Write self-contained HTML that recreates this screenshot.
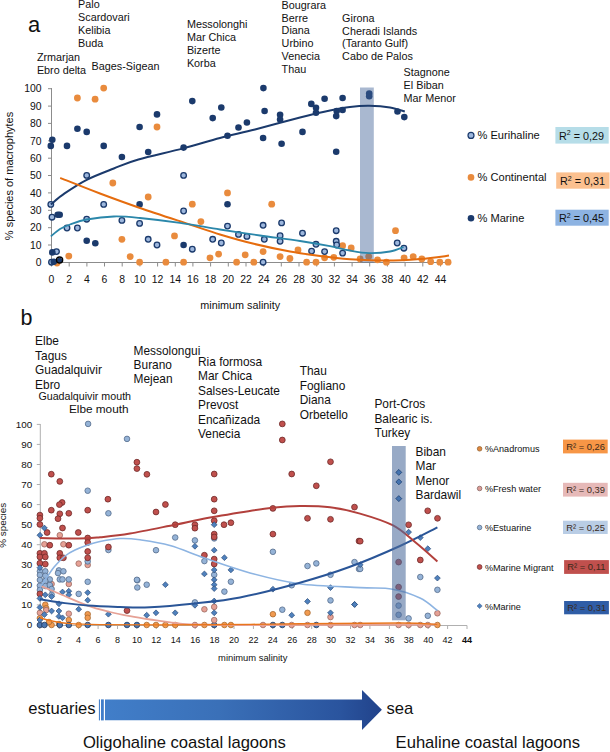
<!DOCTYPE html>
<html><head><meta charset="utf-8"><style>
html,body{margin:0;padding:0;background:#fff;}
body{width:610px;height:752px;overflow:hidden;position:relative;}
svg{position:absolute;left:0;top:0;font-family:"Liberation Sans", sans-serif;}
</style></head><body>
<svg width="610" height="752" viewBox="0 0 610 752">
<g stroke="#8c8c8c" stroke-width="1" fill="none">
<path d="M51.5 88V262.5H449.5"/>
<path d="M48 262.4H51.5"/>
<path d="M48 245.0H51.5"/>
<path d="M48 227.7H51.5"/>
<path d="M48 210.3H51.5"/>
<path d="M48 192.9H51.5"/>
<path d="M48 175.5H51.5"/>
<path d="M48 158.2H51.5"/>
<path d="M48 140.8H51.5"/>
<path d="M48 123.4H51.5"/>
<path d="M48 106.1H51.5"/>
<path d="M48 88.7H51.5"/>
<path d="M51.5 262.5V266.5"/>
<path d="M69.2 262.5V266.5"/>
<path d="M86.9 262.5V266.5"/>
<path d="M104.5 262.5V266.5"/>
<path d="M122.2 262.5V266.5"/>
<path d="M139.9 262.5V266.5"/>
<path d="M157.6 262.5V266.5"/>
<path d="M175.3 262.5V266.5"/>
<path d="M192.9 262.5V266.5"/>
<path d="M210.6 262.5V266.5"/>
<path d="M228.3 262.5V266.5"/>
<path d="M246.0 262.5V266.5"/>
<path d="M263.7 262.5V266.5"/>
<path d="M281.3 262.5V266.5"/>
<path d="M299.0 262.5V266.5"/>
<path d="M316.7 262.5V266.5"/>
<path d="M334.4 262.5V266.5"/>
<path d="M352.1 262.5V266.5"/>
<path d="M369.7 262.5V266.5"/>
<path d="M387.4 262.5V266.5"/>
<path d="M405.1 262.5V266.5"/>
<path d="M422.8 262.5V266.5"/>
<path d="M440.5 262.5V266.5"/>
</g>
<text x="41.5" y="266.1" font-size="10.4" text-anchor="end" fill="#111" >0</text>
<text x="41.5" y="248.7" font-size="10.4" text-anchor="end" fill="#111" >10</text>
<text x="41.5" y="231.4" font-size="10.4" text-anchor="end" fill="#111" >20</text>
<text x="41.5" y="214.0" font-size="10.4" text-anchor="end" fill="#111" >30</text>
<text x="41.5" y="196.6" font-size="10.4" text-anchor="end" fill="#111" >40</text>
<text x="41.5" y="179.2" font-size="10.4" text-anchor="end" fill="#111" >50</text>
<text x="41.5" y="161.9" font-size="10.4" text-anchor="end" fill="#111" >60</text>
<text x="41.5" y="144.5" font-size="10.4" text-anchor="end" fill="#111" >70</text>
<text x="41.5" y="127.1" font-size="10.4" text-anchor="end" fill="#111" >80</text>
<text x="41.5" y="109.8" font-size="10.4" text-anchor="end" fill="#111" >90</text>
<text x="41.5" y="92.4" font-size="10.4" text-anchor="end" fill="#111" >100</text>
<text x="51.5" y="283.2" font-size="10.4" text-anchor="middle" fill="#111" >0</text>
<text x="69.2" y="283.2" font-size="10.4" text-anchor="middle" fill="#111" >2</text>
<text x="86.9" y="283.2" font-size="10.4" text-anchor="middle" fill="#111" >4</text>
<text x="104.5" y="283.2" font-size="10.4" text-anchor="middle" fill="#111" >6</text>
<text x="122.2" y="283.2" font-size="10.4" text-anchor="middle" fill="#111" >8</text>
<text x="139.9" y="283.2" font-size="10.4" text-anchor="middle" fill="#111" >10</text>
<text x="157.6" y="283.2" font-size="10.4" text-anchor="middle" fill="#111" >12</text>
<text x="175.3" y="283.2" font-size="10.4" text-anchor="middle" fill="#111" >14</text>
<text x="192.9" y="283.2" font-size="10.4" text-anchor="middle" fill="#111" >16</text>
<text x="210.6" y="283.2" font-size="10.4" text-anchor="middle" fill="#111" >18</text>
<text x="228.3" y="283.2" font-size="10.4" text-anchor="middle" fill="#111" >20</text>
<text x="246.0" y="283.2" font-size="10.4" text-anchor="middle" fill="#111" >22</text>
<text x="263.7" y="283.2" font-size="10.4" text-anchor="middle" fill="#111" >24</text>
<text x="281.3" y="283.2" font-size="10.4" text-anchor="middle" fill="#111" >26</text>
<text x="299.0" y="283.2" font-size="10.4" text-anchor="middle" fill="#111" >28</text>
<text x="316.7" y="283.2" font-size="10.4" text-anchor="middle" fill="#111" >30</text>
<text x="334.4" y="283.2" font-size="10.4" text-anchor="middle" fill="#111" >32</text>
<text x="352.1" y="283.2" font-size="10.4" text-anchor="middle" fill="#111" >34</text>
<text x="369.7" y="283.2" font-size="10.4" text-anchor="middle" fill="#111" >36</text>
<text x="387.4" y="283.2" font-size="10.4" text-anchor="middle" fill="#111" >38</text>
<text x="405.1" y="283.2" font-size="10.4" text-anchor="middle" fill="#111" >40</text>
<text x="422.8" y="283.2" font-size="10.4" text-anchor="middle" fill="#111" >42</text>
<text x="440.5" y="283.2" font-size="10.4" text-anchor="middle" fill="#111" >44</text>
<circle cx="77.4" cy="98.0" r="3.4" fill="#e98b3d"/>
<circle cx="95.1" cy="99.2" r="3.4" fill="#e98b3d"/>
<circle cx="103.7" cy="88.1" r="3.4" fill="#e98b3d"/>
<circle cx="157.0" cy="127.0" r="3.4" fill="#e98b3d"/>
<circle cx="112.8" cy="183.0" r="3.4" fill="#e98b3d"/>
<circle cx="148.2" cy="197.0" r="3.4" fill="#e98b3d"/>
<circle cx="121.9" cy="239.3" r="3.4" fill="#e98b3d"/>
<circle cx="174.5" cy="235.9" r="3.4" fill="#e98b3d"/>
<circle cx="68.8" cy="256.1" r="3.4" fill="#e98b3d"/>
<circle cx="130.2" cy="256.6" r="3.4" fill="#e98b3d"/>
<circle cx="139.6" cy="262.2" r="3.4" fill="#e98b3d"/>
<circle cx="165.9" cy="262.2" r="3.4" fill="#e98b3d"/>
<circle cx="183.6" cy="262.2" r="3.4" fill="#e98b3d"/>
<circle cx="192.3" cy="204.2" r="3.4" fill="#e98b3d"/>
<circle cx="227.5" cy="192.9" r="3.4" fill="#e98b3d"/>
<circle cx="271.7" cy="204.2" r="3.4" fill="#e98b3d"/>
<circle cx="200.9" cy="221.6" r="3.4" fill="#e98b3d"/>
<circle cx="210.0" cy="257.8" r="3.4" fill="#e98b3d"/>
<circle cx="218.6" cy="254.1" r="3.4" fill="#e98b3d"/>
<circle cx="245.2" cy="254.8" r="3.4" fill="#e98b3d"/>
<circle cx="263.1" cy="251.6" r="3.4" fill="#e98b3d"/>
<circle cx="280.1" cy="256.6" r="3.4" fill="#e98b3d"/>
<circle cx="289.9" cy="258.5" r="3.4" fill="#e98b3d"/>
<circle cx="298.0" cy="249.9" r="3.4" fill="#e98b3d"/>
<circle cx="306.6" cy="262.2" r="3.4" fill="#e98b3d"/>
<circle cx="316.0" cy="262.2" r="3.4" fill="#e98b3d"/>
<circle cx="324.6" cy="257.8" r="3.4" fill="#e98b3d"/>
<circle cx="236.6" cy="262.2" r="3.4" fill="#e98b3d"/>
<circle cx="253.8" cy="262.2" r="3.4" fill="#e98b3d"/>
<circle cx="342.6" cy="245.7" r="3.4" fill="#e98b3d"/>
<circle cx="351.2" cy="248.0" r="3.4" fill="#e98b3d"/>
<circle cx="333.8" cy="257.3" r="3.4" fill="#e98b3d"/>
<circle cx="360.1" cy="259.0" r="3.4" fill="#e98b3d"/>
<circle cx="368.7" cy="256.6" r="3.4" fill="#e98b3d"/>
<circle cx="377.5" cy="259.8" r="3.4" fill="#e98b3d"/>
<circle cx="386.4" cy="262.2" r="3.4" fill="#e98b3d"/>
<circle cx="395.5" cy="230.7" r="3.4" fill="#e98b3d"/>
<circle cx="404.1" cy="257.8" r="3.4" fill="#e98b3d"/>
<circle cx="413.2" cy="256.6" r="3.4" fill="#e98b3d"/>
<circle cx="421.8" cy="259.0" r="3.4" fill="#e98b3d"/>
<circle cx="430.7" cy="261.7" r="3.4" fill="#e98b3d"/>
<circle cx="439.8" cy="262.2" r="3.4" fill="#e98b3d"/>
<circle cx="448.1" cy="262.2" r="3.4" fill="#e98b3d"/>
<circle cx="57.0" cy="263.0" r="3.4" fill="#e98b3d"/>
<circle cx="86.7" cy="175.4" r="2.8" fill="#9db7dd" stroke="#1b3a6c" stroke-width="1.3"/>
<circle cx="183.6" cy="175.4" r="2.8" fill="#9db7dd" stroke="#1b3a6c" stroke-width="1.3"/>
<circle cx="50.8" cy="204.4" r="2.8" fill="#9db7dd" stroke="#1b3a6c" stroke-width="1.3"/>
<circle cx="103.7" cy="204.4" r="2.8" fill="#9db7dd" stroke="#1b3a6c" stroke-width="1.3"/>
<circle cx="52.0" cy="217.2" r="2.8" fill="#9db7dd" stroke="#1b3a6c" stroke-width="1.3"/>
<circle cx="183.6" cy="211.0" r="2.8" fill="#9db7dd" stroke="#1b3a6c" stroke-width="1.3"/>
<circle cx="86.7" cy="219.2" r="2.8" fill="#9db7dd" stroke="#1b3a6c" stroke-width="1.3"/>
<circle cx="67.0" cy="228.0" r="2.8" fill="#9db7dd" stroke="#1b3a6c" stroke-width="1.3"/>
<circle cx="77.4" cy="228.0" r="2.8" fill="#9db7dd" stroke="#1b3a6c" stroke-width="1.3"/>
<circle cx="121.9" cy="220.4" r="2.8" fill="#9db7dd" stroke="#1b3a6c" stroke-width="1.3"/>
<circle cx="139.6" cy="223.4" r="2.8" fill="#9db7dd" stroke="#1b3a6c" stroke-width="1.3"/>
<circle cx="148.2" cy="239.3" r="2.8" fill="#9db7dd" stroke="#1b3a6c" stroke-width="1.3"/>
<circle cx="157.0" cy="245.0" r="2.8" fill="#9db7dd" stroke="#1b3a6c" stroke-width="1.3"/>
<circle cx="56.5" cy="251.6" r="2.8" fill="#9db7dd" stroke="#1b3a6c" stroke-width="1.3"/>
<circle cx="51.5" cy="262.2" r="2.8" fill="#9db7dd" stroke="#1b3a6c" stroke-width="1.3"/>
<circle cx="227.5" cy="226.1" r="2.8" fill="#9db7dd" stroke="#1b3a6c" stroke-width="1.3"/>
<circle cx="263.1" cy="225.3" r="2.8" fill="#9db7dd" stroke="#1b3a6c" stroke-width="1.3"/>
<circle cx="281.6" cy="222.9" r="2.8" fill="#9db7dd" stroke="#1b3a6c" stroke-width="1.3"/>
<circle cx="238.5" cy="234.4" r="2.8" fill="#9db7dd" stroke="#1b3a6c" stroke-width="1.3"/>
<circle cx="246.9" cy="236.4" r="2.8" fill="#9db7dd" stroke="#1b3a6c" stroke-width="1.3"/>
<circle cx="264.3" cy="239.3" r="2.8" fill="#9db7dd" stroke="#1b3a6c" stroke-width="1.3"/>
<circle cx="280.1" cy="235.7" r="2.8" fill="#9db7dd" stroke="#1b3a6c" stroke-width="1.3"/>
<circle cx="280.1" cy="241.3" r="2.8" fill="#9db7dd" stroke="#1b3a6c" stroke-width="1.3"/>
<circle cx="302.5" cy="233.2" r="2.8" fill="#9db7dd" stroke="#1b3a6c" stroke-width="1.3"/>
<circle cx="212.7" cy="239.3" r="2.8" fill="#9db7dd" stroke="#1b3a6c" stroke-width="1.3"/>
<circle cx="221.3" cy="243.0" r="2.8" fill="#9db7dd" stroke="#1b3a6c" stroke-width="1.3"/>
<circle cx="192.3" cy="249.2" r="2.8" fill="#9db7dd" stroke="#1b3a6c" stroke-width="1.3"/>
<circle cx="316.0" cy="244.3" r="2.8" fill="#9db7dd" stroke="#1b3a6c" stroke-width="1.3"/>
<circle cx="311.6" cy="251.1" r="2.8" fill="#9db7dd" stroke="#1b3a6c" stroke-width="1.3"/>
<circle cx="324.6" cy="251.6" r="2.8" fill="#9db7dd" stroke="#1b3a6c" stroke-width="1.3"/>
<circle cx="263.1" cy="262.2" r="2.8" fill="#9db7dd" stroke="#1b3a6c" stroke-width="1.3"/>
<circle cx="336.2" cy="230.7" r="2.8" fill="#9db7dd" stroke="#1b3a6c" stroke-width="1.3"/>
<circle cx="336.2" cy="241.3" r="2.8" fill="#9db7dd" stroke="#1b3a6c" stroke-width="1.3"/>
<circle cx="336.7" cy="245.0" r="2.8" fill="#9db7dd" stroke="#1b3a6c" stroke-width="1.3"/>
<circle cx="342.6" cy="253.1" r="2.8" fill="#9db7dd" stroke="#1b3a6c" stroke-width="1.3"/>
<circle cx="397.2" cy="243.0" r="2.8" fill="#9db7dd" stroke="#1b3a6c" stroke-width="1.3"/>
<circle cx="403.9" cy="248.2" r="2.8" fill="#9db7dd" stroke="#1b3a6c" stroke-width="1.3"/>
<circle cx="77.4" cy="128.7" r="3.3" fill="#1b3a6c"/>
<circle cx="86.7" cy="131.9" r="3.3" fill="#1b3a6c"/>
<circle cx="52.3" cy="139.8" r="3.3" fill="#1b3a6c"/>
<circle cx="50.8" cy="145.9" r="3.3" fill="#1b3a6c"/>
<circle cx="67.0" cy="145.9" r="3.3" fill="#1b3a6c"/>
<circle cx="103.7" cy="145.9" r="3.3" fill="#1b3a6c"/>
<circle cx="139.6" cy="127.0" r="3.3" fill="#1b3a6c"/>
<circle cx="157.0" cy="114.4" r="3.3" fill="#1b3a6c"/>
<circle cx="121.9" cy="157.0" r="3.3" fill="#1b3a6c"/>
<circle cx="148.2" cy="152.0" r="3.3" fill="#1b3a6c"/>
<circle cx="183.6" cy="147.6" r="3.3" fill="#1b3a6c"/>
<circle cx="192.3" cy="101.1" r="3.3" fill="#1b3a6c"/>
<circle cx="212.7" cy="118.1" r="3.3" fill="#1b3a6c"/>
<circle cx="221.3" cy="107.5" r="3.3" fill="#1b3a6c"/>
<circle cx="227.5" cy="135.8" r="3.3" fill="#1b3a6c"/>
<circle cx="238.5" cy="127.5" r="3.3" fill="#1b3a6c"/>
<circle cx="246.9" cy="122.5" r="3.3" fill="#1b3a6c"/>
<circle cx="263.4" cy="88.1" r="3.3" fill="#1b3a6c"/>
<circle cx="264.6" cy="111.0" r="3.3" fill="#1b3a6c"/>
<circle cx="263.1" cy="138.0" r="3.3" fill="#1b3a6c"/>
<circle cx="280.1" cy="114.7" r="3.3" fill="#1b3a6c"/>
<circle cx="280.1" cy="119.6" r="3.3" fill="#1b3a6c"/>
<circle cx="281.6" cy="143.7" r="3.3" fill="#1b3a6c"/>
<circle cx="302.5" cy="131.9" r="3.3" fill="#1b3a6c"/>
<circle cx="311.3" cy="103.9" r="3.3" fill="#1b3a6c"/>
<circle cx="316.0" cy="107.8" r="3.3" fill="#1b3a6c"/>
<circle cx="316.0" cy="112.7" r="3.3" fill="#1b3a6c"/>
<circle cx="324.6" cy="98.7" r="3.3" fill="#1b3a6c"/>
<circle cx="342.6" cy="98.0" r="3.3" fill="#1b3a6c"/>
<circle cx="336.7" cy="111.0" r="3.3" fill="#1b3a6c"/>
<circle cx="342.6" cy="110.0" r="3.3" fill="#1b3a6c"/>
<circle cx="336.2" cy="116.1" r="3.3" fill="#1b3a6c"/>
<circle cx="336.2" cy="151.8" r="3.3" fill="#1b3a6c"/>
<circle cx="369.2" cy="93.5" r="3.3" fill="#1b3a6c"/>
<circle cx="369.2" cy="96.2" r="3.3" fill="#1b3a6c"/>
<circle cx="397.5" cy="111.5" r="3.3" fill="#1b3a6c"/>
<circle cx="404.3" cy="117.1" r="3.3" fill="#1b3a6c"/>
<circle cx="139.6" cy="204.4" r="3.3" fill="#1b3a6c"/>
<circle cx="59.7" cy="214.8" r="3.3" fill="#1b3a6c"/>
<circle cx="57.7" cy="214.8" r="3.3" fill="#1b3a6c"/>
<circle cx="86.7" cy="240.8" r="3.3" fill="#1b3a6c"/>
<circle cx="95.3" cy="243.3" r="3.3" fill="#1b3a6c"/>
<circle cx="183.6" cy="245.0" r="3.3" fill="#1b3a6c"/>
<circle cx="52.3" cy="252.4" r="3.3" fill="#1b3a6c"/>
<circle cx="53.8" cy="261.7" r="3.3" fill="#1b3a6c"/>
<circle cx="227.5" cy="204.2" r="3.3" fill="#1b3a6c"/>
<circle cx="59.6" cy="260.3" r="2.6" fill="#1b3a6c"/>
<circle cx="59.6" cy="260.1" r="3.1" fill="none" stroke="#000" stroke-width="1.3"/>
<rect x="360" y="87.5" width="13.8" height="175" fill="#406297" opacity="0.45"/>
<path d="M50.8 204.4 C53.1 202.6 58.6 197.5 64.6 193.4 C70.6 189.3 78.5 184.0 86.7 179.8 C94.9 175.7 105.2 171.9 113.8 168.5 C122.4 165.1 126.8 162.8 138.4 159.5 C150.0 156.2 169.6 152.0 183.2 148.4 C196.8 144.8 208.0 141.2 220.0 138.0 C232.0 134.8 241.7 132.9 255.0 129.5 C268.3 126.1 287.5 120.7 300.0 117.5 C312.5 114.3 321.7 112.2 330.0 110.5 C338.3 108.8 343.5 107.8 350.0 107.0 C356.5 106.2 362.5 105.7 369.2 105.8 C375.9 105.9 384.1 106.5 390.0 107.5 C395.9 108.5 402.3 110.8 404.8 111.5" fill="none" stroke="#1b3a6c" stroke-width="2"/>
<path d="M60.2 177.9 C66.8 180.5 86.7 188.5 100.0 193.5 C113.3 198.5 125.0 202.8 140.0 208.0 C155.0 213.2 176.7 220.2 190.0 224.6 C203.3 229.0 209.4 231.3 220.0 234.5 C230.6 237.7 242.1 241.0 253.8 243.8 C265.5 246.6 279.0 249.5 290.0 251.5 C301.0 253.5 310.0 254.7 320.0 256.0 C330.0 257.3 339.0 258.4 350.0 259.2 C361.0 259.9 374.3 260.5 386.0 260.5 C397.7 260.5 409.5 259.8 420.0 259.0 C430.5 258.2 444.2 256.2 449.0 255.6" fill="none" stroke="#e56c0e" stroke-width="2"/>
<path d="M50.8 236.4 C52.3 235.2 56.8 231.0 60.0 229.0 C63.2 227.0 65.5 226.1 70.0 224.5 C74.5 222.9 79.4 220.8 86.7 219.5 C94.0 218.2 104.9 216.8 113.8 216.5 C122.7 216.2 129.0 216.9 140.0 218.0 C151.0 219.1 166.7 221.0 180.0 222.9 C193.3 224.8 206.7 227.4 220.0 229.5 C233.3 231.6 246.7 233.6 260.0 235.5 C273.3 237.4 288.3 239.2 300.0 241.0 C311.7 242.8 321.7 244.6 330.0 246.2 C338.3 247.8 343.5 249.3 350.0 250.5 C356.5 251.7 362.5 252.9 369.2 253.1 C375.9 253.3 384.3 252.5 390.0 251.5 C395.7 250.5 401.3 247.8 403.6 247.0" fill="none" stroke="#2b87aa" stroke-width="1.8"/>
<text x="28" y="32" font-size="22" text-anchor="start" fill="#111" >a</text>
<text x="78.1" y="7.8" font-size="10.8" text-anchor="start" fill="#111" >Palo</text>
<text x="78.1" y="20.8" font-size="10.8" text-anchor="start" fill="#111" >Scardovari</text>
<text x="78.1" y="33.8" font-size="10.8" text-anchor="start" fill="#111" >Kelibia</text>
<text x="78.1" y="46.8" font-size="10.8" text-anchor="start" fill="#111" >Buda</text>
<text x="36.9" y="60.7" font-size="10.8" text-anchor="start" fill="#111" >Zrmarjan</text>
<text x="36.9" y="73.5" font-size="10.8" text-anchor="start" fill="#111" >Ebro delta</text>
<text x="91.6" y="69.8" font-size="10.8" text-anchor="start" fill="#111" >Bages-Sigean</text>
<text x="186.9" y="27.5" font-size="10.8" text-anchor="start" fill="#111" >Messolonghi</text>
<text x="186.9" y="40.5" font-size="10.8" text-anchor="start" fill="#111" >Mar Chica</text>
<text x="186.9" y="53.5" font-size="10.8" text-anchor="start" fill="#111" >Bizerte</text>
<text x="186.9" y="66.5" font-size="10.8" text-anchor="start" fill="#111" >Korba</text>
<text x="281.6" y="8.6" font-size="10.8" text-anchor="start" fill="#111" >Bougrara</text>
<text x="281.6" y="21.5" font-size="10.8" text-anchor="start" fill="#111" >Berre</text>
<text x="281.6" y="34.4" font-size="10.8" text-anchor="start" fill="#111" >Diana</text>
<text x="281.6" y="47.3" font-size="10.8" text-anchor="start" fill="#111" >Urbino</text>
<text x="281.6" y="60.2" font-size="10.8" text-anchor="start" fill="#111" >Venecia</text>
<text x="281.6" y="73.1" font-size="10.8" text-anchor="start" fill="#111" >Thau</text>
<text x="342.1" y="21.6" font-size="10.8" text-anchor="start" fill="#111" >Girona</text>
<text x="342.1" y="34.5" font-size="10.8" text-anchor="start" fill="#111" >Cheradi Islands</text>
<text x="342.1" y="47.4" font-size="10.8" text-anchor="start" fill="#111" >(Taranto Gulf)</text>
<text x="342.1" y="60.3" font-size="10.8" text-anchor="start" fill="#111" >Cabo de Palos</text>
<text x="403.6" y="76.2" font-size="10.8" text-anchor="start" fill="#111" >Stagnone</text>
<text x="403.6" y="88.9" font-size="10.8" text-anchor="start" fill="#111" >El Biban</text>
<text x="403.6" y="101.6" font-size="10.8" text-anchor="start" fill="#111" >Mar Menor</text>
<text x="200.3" y="308.5" font-size="10.8" text-anchor="start" fill="#111" >minimum salinity</text>
<text x="0" y="0" font-size="11" text-anchor="middle" fill="#111" transform="translate(13.2 176) rotate(-90)">% species of macrophytes</text>
<circle cx="471.0" cy="135.4" r="3.0" fill="#9db7dd" stroke="#1b3a6c" stroke-width="1.2"/>
<text x="477.5" y="139.3" font-size="11.1" text-anchor="start" fill="#111" >% Eurihaline</text>
<rect x="555.4" y="127" width="53.3" height="16.6" fill="#b6dde8"/>
<text x="559" y="139.8" font-size="10.8" text-anchor="start" fill="#111" >R<tspan font-size="7" dy="-4.5">2</tspan><tspan dy="4.5"> = 0,29</tspan></text>
<circle cx="471.0" cy="177.4" r="3.3" fill="#e98b3d"/>
<text x="477.5" y="181.3" font-size="11.1" text-anchor="start" fill="#111" >% Continental</text>
<rect x="556.2" y="172.4" width="53.3" height="16.3" fill="#fbc08f"/>
<text x="560" y="185" font-size="10.8" text-anchor="start" fill="#111" >R<tspan font-size="7" dy="-4.5">2</tspan><tspan dy="4.5"> = 0,31</tspan></text>
<circle cx="471.0" cy="218.3" r="3.3" fill="#1b3a6c"/>
<text x="477.5" y="222.2" font-size="11.1" text-anchor="start" fill="#111" >% Marine</text>
<rect x="555.4" y="209.7" width="53.3" height="16" fill="#8db3e2"/>
<text x="559" y="222.3" font-size="10.8" text-anchor="start" fill="#111" >R<tspan font-size="7" dy="-4.5">2</tspan><tspan dy="4.5"> = 0,45</tspan></text>
<g stroke="#b0b0b0" stroke-width="1" fill="none">
<path d="M40.3 424V625.5H467"/>
<path d="M36.8 624.9H40.3"/>
<path d="M36.8 604.9H40.3"/>
<path d="M36.8 584.8H40.3"/>
<path d="M36.8 564.8H40.3"/>
<path d="M36.8 544.7H40.3"/>
<path d="M36.8 524.6H40.3"/>
<path d="M36.8 504.6H40.3"/>
<path d="M36.8 484.5H40.3"/>
<path d="M36.8 464.5H40.3"/>
<path d="M36.8 444.4H40.3"/>
<path d="M36.8 424.4H40.3"/>
<path d="M39.8 625.5V629"/>
<path d="M59.2 625.5V629"/>
<path d="M78.6 625.5V629"/>
<path d="M98.1 625.5V629"/>
<path d="M117.5 625.5V629"/>
<path d="M136.9 625.5V629"/>
<path d="M156.3 625.5V629"/>
<path d="M175.7 625.5V629"/>
<path d="M195.2 625.5V629"/>
<path d="M214.6 625.5V629"/>
<path d="M234.0 625.5V629"/>
<path d="M253.4 625.5V629"/>
<path d="M272.8 625.5V629"/>
<path d="M292.3 625.5V629"/>
<path d="M311.7 625.5V629"/>
<path d="M331.1 625.5V629"/>
<path d="M350.5 625.5V629"/>
<path d="M369.9 625.5V629"/>
<path d="M389.4 625.5V629"/>
<path d="M408.8 625.5V629"/>
<path d="M428.2 625.5V629"/>
<path d="M447.6 625.5V629"/>
<path d="M467.0 625.5V629"/>
</g>
<text x="32.3" y="628.4" font-size="9.9" text-anchor="end" fill="#111" >0</text>
<text x="32.3" y="608.4" font-size="9.9" text-anchor="end" fill="#111" >10</text>
<text x="32.3" y="588.3" font-size="9.9" text-anchor="end" fill="#111" >20</text>
<text x="32.3" y="568.2" font-size="9.9" text-anchor="end" fill="#111" >30</text>
<text x="32.3" y="548.2" font-size="9.9" text-anchor="end" fill="#111" >40</text>
<text x="32.3" y="528.1" font-size="9.9" text-anchor="end" fill="#111" >50</text>
<text x="32.3" y="508.1" font-size="9.9" text-anchor="end" fill="#111" >60</text>
<text x="32.3" y="488.0" font-size="9.9" text-anchor="end" fill="#111" >70</text>
<text x="32.3" y="468.0" font-size="9.9" text-anchor="end" fill="#111" >80</text>
<text x="32.3" y="447.9" font-size="9.9" text-anchor="end" fill="#111" >90</text>
<text x="32.3" y="427.9" font-size="9.9" text-anchor="end" fill="#111" >100</text>
<text x="39.8" y="643.1" font-size="9.0" text-anchor="middle" fill="#111" >0</text>
<text x="59.2" y="643.1" font-size="9.0" text-anchor="middle" fill="#111" >2</text>
<text x="78.6" y="643.1" font-size="9.0" text-anchor="middle" fill="#111" >4</text>
<text x="98.1" y="643.1" font-size="9.0" text-anchor="middle" fill="#111" >6</text>
<text x="117.5" y="643.1" font-size="9.0" text-anchor="middle" fill="#111" >8</text>
<text x="136.9" y="643.1" font-size="9.0" text-anchor="middle" fill="#111" >10</text>
<text x="156.3" y="643.1" font-size="9.0" text-anchor="middle" fill="#111" >12</text>
<text x="175.7" y="643.1" font-size="9.0" text-anchor="middle" fill="#111" >14</text>
<text x="195.2" y="643.1" font-size="9.0" text-anchor="middle" fill="#111" >16</text>
<text x="214.6" y="643.1" font-size="9.0" text-anchor="middle" fill="#111" >18</text>
<text x="234.0" y="643.1" font-size="9.0" text-anchor="middle" fill="#111" >20</text>
<text x="253.4" y="643.1" font-size="9.0" text-anchor="middle" fill="#111" >22</text>
<text x="272.8" y="643.1" font-size="9.0" text-anchor="middle" fill="#111" >24</text>
<text x="292.3" y="643.1" font-size="9.0" text-anchor="middle" fill="#111" >26</text>
<text x="311.7" y="643.1" font-size="9.0" text-anchor="middle" fill="#111" >28</text>
<text x="331.1" y="643.1" font-size="9.0" text-anchor="middle" fill="#111" >30</text>
<text x="350.5" y="643.1" font-size="9.0" text-anchor="middle" fill="#111" >32</text>
<text x="369.9" y="643.1" font-size="9.0" text-anchor="middle" fill="#111" >34</text>
<text x="389.4" y="643.1" font-size="9.0" text-anchor="middle" fill="#111" >36</text>
<text x="408.8" y="643.1" font-size="9.0" text-anchor="middle" fill="#111" >38</text>
<text x="428.2" y="643.1" font-size="9.0" text-anchor="middle" fill="#111" >40</text>
<text x="447.6" y="643.1" font-size="9.0" text-anchor="middle" fill="#111" >42</text>
<text x="467.0" y="643.1" font-size="9.0" text-anchor="middle" fill="#111" font-weight="bold">44</text>
<circle cx="45.3" cy="604.7" r="2.8" fill="#f19a4f" stroke="#a86a30" stroke-width="0.8"/>
<circle cx="46.2" cy="608.3" r="2.8" fill="#f19a4f" stroke="#a86a30" stroke-width="0.8"/>
<circle cx="87.7" cy="614.2" r="2.8" fill="#f19a4f" stroke="#a86a30" stroke-width="0.8"/>
<circle cx="87.7" cy="617.8" r="2.8" fill="#f19a4f" stroke="#a86a30" stroke-width="0.8"/>
<circle cx="68.8" cy="620.0" r="2.8" fill="#f19a4f" stroke="#a86a30" stroke-width="0.8"/>
<circle cx="39.9" cy="618.2" r="2.8" fill="#f19a4f" stroke="#a86a30" stroke-width="0.8"/>
<circle cx="272.9" cy="614.2" r="2.8" fill="#f19a4f" stroke="#a86a30" stroke-width="0.8"/>
<circle cx="307.5" cy="612.8" r="2.8" fill="#f19a4f" stroke="#a86a30" stroke-width="0.8"/>
<circle cx="437.4" cy="625.0" r="2.8" fill="#f19a4f" stroke="#a86a30" stroke-width="0.8"/>
<circle cx="51.6" cy="625.0" r="2.8" fill="#f19a4f" stroke="#a86a30" stroke-width="0.8"/>
<circle cx="78.7" cy="625.0" r="2.8" fill="#f19a4f" stroke="#a86a30" stroke-width="0.8"/>
<circle cx="146.7" cy="625.0" r="2.8" fill="#f19a4f" stroke="#a86a30" stroke-width="0.8"/>
<circle cx="156.0" cy="625.0" r="2.8" fill="#f19a4f" stroke="#a86a30" stroke-width="0.8"/>
<circle cx="165.4" cy="625.0" r="2.8" fill="#f19a4f" stroke="#a86a30" stroke-width="0.8"/>
<circle cx="175.2" cy="625.0" r="2.8" fill="#f19a4f" stroke="#a86a30" stroke-width="0.8"/>
<circle cx="204.4" cy="625.0" r="2.8" fill="#f19a4f" stroke="#a86a30" stroke-width="0.8"/>
<circle cx="224.4" cy="625.0" r="2.8" fill="#f19a4f" stroke="#a86a30" stroke-width="0.8"/>
<circle cx="230.9" cy="625.0" r="2.8" fill="#f19a4f" stroke="#a86a30" stroke-width="0.8"/>
<circle cx="49.0" cy="622.0" r="2.8" fill="#f19a4f" stroke="#a86a30" stroke-width="0.8"/>
<circle cx="59.0" cy="624.0" r="2.8" fill="#f19a4f" stroke="#a86a30" stroke-width="0.8"/>
<circle cx="39.9" cy="625.0" r="2.8" fill="#4a76b0" stroke="#1f365c" stroke-width="0.8"/>
<circle cx="44.4" cy="625.0" r="2.8" fill="#4a76b0" stroke="#1f365c" stroke-width="0.8"/>
<circle cx="59.8" cy="625.0" r="2.8" fill="#4a76b0" stroke="#1f365c" stroke-width="0.8"/>
<circle cx="68.8" cy="625.0" r="2.8" fill="#4a76b0" stroke="#1f365c" stroke-width="0.8"/>
<circle cx="87.7" cy="625.0" r="2.8" fill="#4a76b0" stroke="#1f365c" stroke-width="0.8"/>
<circle cx="108.4" cy="625.0" r="2.8" fill="#4a76b0" stroke="#1f365c" stroke-width="0.8"/>
<circle cx="127.0" cy="625.0" r="2.8" fill="#4a76b0" stroke="#1f365c" stroke-width="0.8"/>
<circle cx="136.9" cy="625.0" r="2.8" fill="#4a76b0" stroke="#1f365c" stroke-width="0.8"/>
<circle cx="214.2" cy="625.0" r="2.8" fill="#4a76b0" stroke="#1f365c" stroke-width="0.8"/>
<circle cx="272.9" cy="625.0" r="2.8" fill="#4a76b0" stroke="#1f365c" stroke-width="0.8"/>
<circle cx="282.3" cy="625.0" r="2.8" fill="#4a76b0" stroke="#1f365c" stroke-width="0.8"/>
<circle cx="316.3" cy="625.0" r="2.8" fill="#4a76b0" stroke="#1f365c" stroke-width="0.8"/>
<circle cx="59.8" cy="535.2" r="2.8" fill="#e6a195" stroke="#9a6a62" stroke-width="0.8"/>
<circle cx="44.4" cy="544.3" r="2.8" fill="#e6a195" stroke="#9a6a62" stroke-width="0.8"/>
<circle cx="63.4" cy="544.3" r="2.8" fill="#e6a195" stroke="#9a6a62" stroke-width="0.8"/>
<circle cx="78.7" cy="563.6" r="2.8" fill="#e6a195" stroke="#9a6a62" stroke-width="0.8"/>
<circle cx="87.7" cy="565.0" r="2.8" fill="#e6a195" stroke="#9a6a62" stroke-width="0.8"/>
<circle cx="51.6" cy="584.0" r="2.8" fill="#e6a195" stroke="#9a6a62" stroke-width="0.8"/>
<circle cx="68.8" cy="584.0" r="2.8" fill="#e6a195" stroke="#9a6a62" stroke-width="0.8"/>
<circle cx="39.9" cy="612.8" r="2.8" fill="#e6a195" stroke="#9a6a62" stroke-width="0.8"/>
<circle cx="68.8" cy="613.7" r="2.8" fill="#e6a195" stroke="#9a6a62" stroke-width="0.8"/>
<circle cx="46.2" cy="610.1" r="2.8" fill="#e6a195" stroke="#9a6a62" stroke-width="0.8"/>
<circle cx="204.4" cy="609.3" r="2.8" fill="#e6a195" stroke="#9a6a62" stroke-width="0.8"/>
<circle cx="214.2" cy="606.9" r="2.8" fill="#e6a195" stroke="#9a6a62" stroke-width="0.8"/>
<circle cx="214.2" cy="620.1" r="2.8" fill="#e6a195" stroke="#9a6a62" stroke-width="0.8"/>
<circle cx="330.5" cy="617.1" r="2.8" fill="#e6a195" stroke="#9a6a62" stroke-width="0.8"/>
<circle cx="437.4" cy="613.3" r="2.8" fill="#e6a195" stroke="#9a6a62" stroke-width="0.8"/>
<circle cx="194.9" cy="625.0" r="2.8" fill="#e6a195" stroke="#9a6a62" stroke-width="0.8"/>
<circle cx="263.0" cy="625.0" r="2.8" fill="#e6a195" stroke="#9a6a62" stroke-width="0.8"/>
<circle cx="291.7" cy="625.0" r="2.8" fill="#e6a195" stroke="#9a6a62" stroke-width="0.8"/>
<circle cx="307.5" cy="625.0" r="2.8" fill="#e6a195" stroke="#9a6a62" stroke-width="0.8"/>
<circle cx="330.5" cy="625.0" r="2.8" fill="#e6a195" stroke="#9a6a62" stroke-width="0.8"/>
<circle cx="354.5" cy="625.0" r="2.8" fill="#e6a195" stroke="#9a6a62" stroke-width="0.8"/>
<circle cx="360.2" cy="625.0" r="2.8" fill="#e6a195" stroke="#9a6a62" stroke-width="0.8"/>
<circle cx="398.6" cy="625.0" r="2.8" fill="#e6a195" stroke="#9a6a62" stroke-width="0.8"/>
<circle cx="408.6" cy="625.0" r="2.8" fill="#e6a195" stroke="#9a6a62" stroke-width="0.8"/>
<circle cx="420.3" cy="625.0" r="2.8" fill="#e6a195" stroke="#9a6a62" stroke-width="0.8"/>
<circle cx="427.8" cy="625.0" r="2.8" fill="#e6a195" stroke="#9a6a62" stroke-width="0.8"/>
<circle cx="88.1" cy="423.9" r="2.8" fill="#95b3d7" stroke="#566c8c" stroke-width="0.8"/>
<circle cx="127.0" cy="438.9" r="2.8" fill="#95b3d7" stroke="#566c8c" stroke-width="0.8"/>
<circle cx="87.7" cy="490.7" r="2.8" fill="#95b3d7" stroke="#566c8c" stroke-width="0.8"/>
<circle cx="108.4" cy="513.3" r="2.8" fill="#95b3d7" stroke="#566c8c" stroke-width="0.8"/>
<circle cx="108.4" cy="550.0" r="2.8" fill="#95b3d7" stroke="#566c8c" stroke-width="0.8"/>
<circle cx="87.7" cy="561.4" r="2.8" fill="#95b3d7" stroke="#566c8c" stroke-width="0.8"/>
<circle cx="39.9" cy="571.3" r="2.8" fill="#95b3d7" stroke="#566c8c" stroke-width="0.8"/>
<circle cx="45.3" cy="571.3" r="2.8" fill="#95b3d7" stroke="#566c8c" stroke-width="0.8"/>
<circle cx="39.9" cy="575.0" r="2.8" fill="#95b3d7" stroke="#566c8c" stroke-width="0.8"/>
<circle cx="45.3" cy="575.8" r="2.8" fill="#95b3d7" stroke="#566c8c" stroke-width="0.8"/>
<circle cx="58.9" cy="570.4" r="2.8" fill="#95b3d7" stroke="#566c8c" stroke-width="0.8"/>
<circle cx="63.4" cy="571.3" r="2.8" fill="#95b3d7" stroke="#566c8c" stroke-width="0.8"/>
<circle cx="58.0" cy="573.1" r="2.8" fill="#95b3d7" stroke="#566c8c" stroke-width="0.8"/>
<circle cx="59.8" cy="579.4" r="2.8" fill="#95b3d7" stroke="#566c8c" stroke-width="0.8"/>
<circle cx="62.5" cy="579.4" r="2.8" fill="#95b3d7" stroke="#566c8c" stroke-width="0.8"/>
<circle cx="68.8" cy="579.4" r="2.8" fill="#95b3d7" stroke="#566c8c" stroke-width="0.8"/>
<circle cx="87.7" cy="581.8" r="2.8" fill="#95b3d7" stroke="#566c8c" stroke-width="0.8"/>
<circle cx="49.8" cy="579.4" r="2.8" fill="#95b3d7" stroke="#566c8c" stroke-width="0.8"/>
<circle cx="39.9" cy="585.7" r="2.8" fill="#95b3d7" stroke="#566c8c" stroke-width="0.8"/>
<circle cx="78.7" cy="593.9" r="2.8" fill="#95b3d7" stroke="#566c8c" stroke-width="0.8"/>
<circle cx="137.3" cy="580.3" r="2.8" fill="#95b3d7" stroke="#566c8c" stroke-width="0.8"/>
<circle cx="137.3" cy="587.5" r="2.8" fill="#95b3d7" stroke="#566c8c" stroke-width="0.8"/>
<circle cx="51.6" cy="594.8" r="2.8" fill="#95b3d7" stroke="#566c8c" stroke-width="0.8"/>
<circle cx="39.9" cy="580.0" r="2.8" fill="#95b3d7" stroke="#566c8c" stroke-width="0.8"/>
<circle cx="45.3" cy="581.0" r="2.8" fill="#95b3d7" stroke="#566c8c" stroke-width="0.8"/>
<circle cx="39.9" cy="590.0" r="2.8" fill="#95b3d7" stroke="#566c8c" stroke-width="0.8"/>
<circle cx="45.3" cy="586.0" r="2.8" fill="#95b3d7" stroke="#566c8c" stroke-width="0.8"/>
<circle cx="49.8" cy="585.0" r="2.8" fill="#95b3d7" stroke="#566c8c" stroke-width="0.8"/>
<circle cx="51.6" cy="589.0" r="2.8" fill="#95b3d7" stroke="#566c8c" stroke-width="0.8"/>
<circle cx="175.2" cy="537.5" r="2.8" fill="#95b3d7" stroke="#566c8c" stroke-width="0.8"/>
<circle cx="194.9" cy="540.4" r="2.8" fill="#95b3d7" stroke="#566c8c" stroke-width="0.8"/>
<circle cx="156.0" cy="550.2" r="2.8" fill="#95b3d7" stroke="#566c8c" stroke-width="0.8"/>
<circle cx="204.4" cy="561.1" r="2.8" fill="#95b3d7" stroke="#566c8c" stroke-width="0.8"/>
<circle cx="214.2" cy="538.4" r="2.8" fill="#95b3d7" stroke="#566c8c" stroke-width="0.8"/>
<circle cx="214.2" cy="574.8" r="2.8" fill="#95b3d7" stroke="#566c8c" stroke-width="0.8"/>
<circle cx="136.9" cy="579.8" r="2.8" fill="#95b3d7" stroke="#566c8c" stroke-width="0.8"/>
<circle cx="146.7" cy="584.7" r="2.8" fill="#95b3d7" stroke="#566c8c" stroke-width="0.8"/>
<circle cx="230.9" cy="581.7" r="2.8" fill="#95b3d7" stroke="#566c8c" stroke-width="0.8"/>
<circle cx="224.4" cy="591.6" r="2.8" fill="#95b3d7" stroke="#566c8c" stroke-width="0.8"/>
<circle cx="194.9" cy="602.4" r="2.8" fill="#95b3d7" stroke="#566c8c" stroke-width="0.8"/>
<circle cx="272.9" cy="551.8" r="2.8" fill="#95b3d7" stroke="#566c8c" stroke-width="0.8"/>
<circle cx="307.5" cy="566.0" r="2.8" fill="#95b3d7" stroke="#566c8c" stroke-width="0.8"/>
<circle cx="316.3" cy="563.4" r="2.8" fill="#95b3d7" stroke="#566c8c" stroke-width="0.8"/>
<circle cx="354.5" cy="562.1" r="2.8" fill="#95b3d7" stroke="#566c8c" stroke-width="0.8"/>
<circle cx="359.0" cy="569.0" r="2.8" fill="#95b3d7" stroke="#566c8c" stroke-width="0.8"/>
<circle cx="330.5" cy="574.8" r="2.8" fill="#95b3d7" stroke="#566c8c" stroke-width="0.8"/>
<circle cx="291.7" cy="585.3" r="2.8" fill="#95b3d7" stroke="#566c8c" stroke-width="0.8"/>
<circle cx="330.5" cy="600.4" r="2.8" fill="#95b3d7" stroke="#566c8c" stroke-width="0.8"/>
<circle cx="282.3" cy="609.7" r="2.8" fill="#95b3d7" stroke="#566c8c" stroke-width="0.8"/>
<circle cx="360.2" cy="568.9" r="2.8" fill="#95b3d7" stroke="#566c8c" stroke-width="0.8"/>
<circle cx="420.3" cy="577.0" r="2.8" fill="#95b3d7" stroke="#566c8c" stroke-width="0.8"/>
<circle cx="437.4" cy="589.8" r="2.8" fill="#95b3d7" stroke="#566c8c" stroke-width="0.8"/>
<circle cx="398.6" cy="605.6" r="2.8" fill="#95b3d7" stroke="#566c8c" stroke-width="0.8"/>
<circle cx="398.6" cy="614.8" r="2.8" fill="#95b3d7" stroke="#566c8c" stroke-width="0.8"/>
<circle cx="408.6" cy="618.4" r="2.8" fill="#95b3d7" stroke="#566c8c" stroke-width="0.8"/>
<circle cx="427.8" cy="615.8" r="2.8" fill="#95b3d7" stroke="#566c8c" stroke-width="0.8"/>
<circle cx="136.9" cy="462.2" r="2.9" fill="#c0504d" stroke="#6e2a28" stroke-width="0.8"/>
<circle cx="136.9" cy="468.6" r="2.9" fill="#c0504d" stroke="#6e2a28" stroke-width="0.8"/>
<circle cx="51.3" cy="474.2" r="2.9" fill="#c0504d" stroke="#6e2a28" stroke-width="0.8"/>
<circle cx="59.8" cy="481.4" r="2.9" fill="#c0504d" stroke="#6e2a28" stroke-width="0.8"/>
<circle cx="107.9" cy="499.2" r="2.9" fill="#c0504d" stroke="#6e2a28" stroke-width="0.8"/>
<circle cx="62.1" cy="502.5" r="2.9" fill="#c0504d" stroke="#6e2a28" stroke-width="0.8"/>
<circle cx="59.4" cy="504.6" r="2.9" fill="#c0504d" stroke="#6e2a28" stroke-width="0.8"/>
<circle cx="51.3" cy="510.2" r="2.9" fill="#c0504d" stroke="#6e2a28" stroke-width="0.8"/>
<circle cx="87.7" cy="510.2" r="2.9" fill="#c0504d" stroke="#6e2a28" stroke-width="0.8"/>
<circle cx="59.8" cy="513.8" r="2.9" fill="#c0504d" stroke="#6e2a28" stroke-width="0.8"/>
<circle cx="68.8" cy="513.3" r="2.9" fill="#c0504d" stroke="#6e2a28" stroke-width="0.8"/>
<circle cx="39.9" cy="515.1" r="2.9" fill="#c0504d" stroke="#6e2a28" stroke-width="0.8"/>
<circle cx="39.9" cy="518.2" r="2.9" fill="#c0504d" stroke="#6e2a28" stroke-width="0.8"/>
<circle cx="58.0" cy="518.7" r="2.9" fill="#c0504d" stroke="#6e2a28" stroke-width="0.8"/>
<circle cx="39.9" cy="524.4" r="2.9" fill="#c0504d" stroke="#6e2a28" stroke-width="0.8"/>
<circle cx="62.5" cy="528.0" r="2.9" fill="#c0504d" stroke="#6e2a28" stroke-width="0.8"/>
<circle cx="47.1" cy="532.5" r="2.9" fill="#c0504d" stroke="#6e2a28" stroke-width="0.8"/>
<circle cx="78.3" cy="532.5" r="2.9" fill="#c0504d" stroke="#6e2a28" stroke-width="0.8"/>
<circle cx="87.7" cy="538.0" r="2.9" fill="#c0504d" stroke="#6e2a28" stroke-width="0.8"/>
<circle cx="87.7" cy="542.5" r="2.9" fill="#c0504d" stroke="#6e2a28" stroke-width="0.8"/>
<circle cx="49.8" cy="545.2" r="2.9" fill="#c0504d" stroke="#6e2a28" stroke-width="0.8"/>
<circle cx="68.8" cy="545.2" r="2.9" fill="#c0504d" stroke="#6e2a28" stroke-width="0.8"/>
<circle cx="108.4" cy="547.0" r="2.9" fill="#c0504d" stroke="#6e2a28" stroke-width="0.8"/>
<circle cx="39.9" cy="553.3" r="2.9" fill="#c0504d" stroke="#6e2a28" stroke-width="0.8"/>
<circle cx="44.4" cy="553.3" r="2.9" fill="#c0504d" stroke="#6e2a28" stroke-width="0.8"/>
<circle cx="59.8" cy="553.3" r="2.9" fill="#c0504d" stroke="#6e2a28" stroke-width="0.8"/>
<circle cx="87.7" cy="551.5" r="2.9" fill="#c0504d" stroke="#6e2a28" stroke-width="0.8"/>
<circle cx="39.9" cy="556.9" r="2.9" fill="#c0504d" stroke="#6e2a28" stroke-width="0.8"/>
<circle cx="45.3" cy="556.9" r="2.9" fill="#c0504d" stroke="#6e2a28" stroke-width="0.8"/>
<circle cx="59.8" cy="557.8" r="2.9" fill="#c0504d" stroke="#6e2a28" stroke-width="0.8"/>
<circle cx="63.4" cy="557.8" r="2.9" fill="#c0504d" stroke="#6e2a28" stroke-width="0.8"/>
<circle cx="87.7" cy="557.8" r="2.9" fill="#c0504d" stroke="#6e2a28" stroke-width="0.8"/>
<circle cx="39.9" cy="563.2" r="2.9" fill="#c0504d" stroke="#6e2a28" stroke-width="0.8"/>
<circle cx="45.3" cy="564.1" r="2.9" fill="#c0504d" stroke="#6e2a28" stroke-width="0.8"/>
<circle cx="39.9" cy="593.9" r="2.9" fill="#c0504d" stroke="#6e2a28" stroke-width="0.8"/>
<circle cx="127.0" cy="610.6" r="2.9" fill="#c0504d" stroke="#6e2a28" stroke-width="0.8"/>
<circle cx="146.9" cy="474.3" r="2.9" fill="#c0504d" stroke="#6e2a28" stroke-width="0.8"/>
<circle cx="165.4" cy="504.5" r="2.9" fill="#c0504d" stroke="#6e2a28" stroke-width="0.8"/>
<circle cx="156.0" cy="512.0" r="2.9" fill="#c0504d" stroke="#6e2a28" stroke-width="0.8"/>
<circle cx="214.2" cy="474.0" r="2.9" fill="#c0504d" stroke="#6e2a28" stroke-width="0.8"/>
<circle cx="214.2" cy="499.2" r="2.9" fill="#c0504d" stroke="#6e2a28" stroke-width="0.8"/>
<circle cx="214.2" cy="510.8" r="2.9" fill="#c0504d" stroke="#6e2a28" stroke-width="0.8"/>
<circle cx="175.2" cy="524.7" r="2.9" fill="#c0504d" stroke="#6e2a28" stroke-width="0.8"/>
<circle cx="194.9" cy="524.7" r="2.9" fill="#c0504d" stroke="#6e2a28" stroke-width="0.8"/>
<circle cx="194.9" cy="528.2" r="2.9" fill="#c0504d" stroke="#6e2a28" stroke-width="0.8"/>
<circle cx="214.2" cy="520.7" r="2.9" fill="#c0504d" stroke="#6e2a28" stroke-width="0.8"/>
<circle cx="224.0" cy="524.7" r="2.9" fill="#c0504d" stroke="#6e2a28" stroke-width="0.8"/>
<circle cx="230.9" cy="522.7" r="2.9" fill="#c0504d" stroke="#6e2a28" stroke-width="0.8"/>
<circle cx="214.2" cy="534.1" r="2.9" fill="#c0504d" stroke="#6e2a28" stroke-width="0.8"/>
<circle cx="214.2" cy="537.0" r="2.9" fill="#c0504d" stroke="#6e2a28" stroke-width="0.8"/>
<circle cx="204.4" cy="555.2" r="2.9" fill="#c0504d" stroke="#6e2a28" stroke-width="0.8"/>
<circle cx="214.2" cy="559.1" r="2.9" fill="#c0504d" stroke="#6e2a28" stroke-width="0.8"/>
<circle cx="214.2" cy="564.0" r="2.9" fill="#c0504d" stroke="#6e2a28" stroke-width="0.8"/>
<circle cx="282.3" cy="423.9" r="2.9" fill="#c0504d" stroke="#6e2a28" stroke-width="0.8"/>
<circle cx="282.3" cy="440.0" r="2.9" fill="#c0504d" stroke="#6e2a28" stroke-width="0.8"/>
<circle cx="330.5" cy="461.8" r="2.9" fill="#c0504d" stroke="#6e2a28" stroke-width="0.8"/>
<circle cx="291.7" cy="474.0" r="2.9" fill="#c0504d" stroke="#6e2a28" stroke-width="0.8"/>
<circle cx="316.3" cy="485.8" r="2.9" fill="#c0504d" stroke="#6e2a28" stroke-width="0.8"/>
<circle cx="272.9" cy="508.4" r="2.9" fill="#c0504d" stroke="#6e2a28" stroke-width="0.8"/>
<circle cx="354.5" cy="507.1" r="2.9" fill="#c0504d" stroke="#6e2a28" stroke-width="0.8"/>
<circle cx="307.5" cy="518.3" r="2.9" fill="#c0504d" stroke="#6e2a28" stroke-width="0.8"/>
<circle cx="330.5" cy="519.3" r="2.9" fill="#c0504d" stroke="#6e2a28" stroke-width="0.8"/>
<circle cx="272.9" cy="534.1" r="2.9" fill="#c0504d" stroke="#6e2a28" stroke-width="0.8"/>
<circle cx="359.0" cy="541.0" r="2.9" fill="#c0504d" stroke="#6e2a28" stroke-width="0.8"/>
<circle cx="427.7" cy="510.8" r="2.9" fill="#c0504d" stroke="#6e2a28" stroke-width="0.8"/>
<circle cx="437.5" cy="518.3" r="2.9" fill="#c0504d" stroke="#6e2a28" stroke-width="0.8"/>
<circle cx="408.6" cy="524.8" r="2.9" fill="#c0504d" stroke="#6e2a28" stroke-width="0.8"/>
<circle cx="360.2" cy="541.2" r="2.9" fill="#c0504d" stroke="#6e2a28" stroke-width="0.8"/>
<circle cx="420.3" cy="560.0" r="2.9" fill="#c0504d" stroke="#6e2a28" stroke-width="0.8"/>
<circle cx="398.6" cy="562.1" r="2.9" fill="#c0504d" stroke="#6e2a28" stroke-width="0.8"/>
<circle cx="398.6" cy="587.1" r="2.9" fill="#c0504d" stroke="#6e2a28" stroke-width="0.8"/>
<circle cx="398.6" cy="596.6" r="2.9" fill="#c0504d" stroke="#6e2a28" stroke-width="0.8"/>
<path d="M44.4 525.1L47.3 528.0L44.4 530.9L41.5 528.0Z" fill="#4f81bd" stroke="#2a4a78" stroke-width="0.7"/>
<path d="M39.9 532.3L42.8 535.2L39.9 538.1L37.0 535.2Z" fill="#4f81bd" stroke="#2a4a78" stroke-width="0.7"/>
<path d="M39.9 564.8L42.8 567.7L39.9 570.6L37.0 567.7Z" fill="#4f81bd" stroke="#2a4a78" stroke-width="0.7"/>
<path d="M62.5 589.1L65.4 592.0L62.5 594.9L59.6 592.0Z" fill="#4f81bd" stroke="#2a4a78" stroke-width="0.7"/>
<path d="M68.8 588.3L71.7 591.2L68.8 594.1L65.9 591.2Z" fill="#4f81bd" stroke="#2a4a78" stroke-width="0.7"/>
<path d="M68.8 591.9L71.7 594.8L68.8 597.7L65.9 594.8Z" fill="#4f81bd" stroke="#2a4a78" stroke-width="0.7"/>
<path d="M87.7 589.7L90.6 592.6L87.7 595.5L84.8 592.6Z" fill="#4f81bd" stroke="#2a4a78" stroke-width="0.7"/>
<path d="M87.7 597.3L90.6 600.2L87.7 603.1L84.8 600.2Z" fill="#4f81bd" stroke="#2a4a78" stroke-width="0.7"/>
<path d="M58.9 600.9L61.8 603.8L58.9 606.7L56.0 603.8Z" fill="#4f81bd" stroke="#2a4a78" stroke-width="0.7"/>
<path d="M78.7 606.3L81.6 609.2L78.7 612.1L75.8 609.2Z" fill="#4f81bd" stroke="#2a4a78" stroke-width="0.7"/>
<path d="M108.4 611.3L111.3 614.2L108.4 617.1L105.5 614.2Z" fill="#4f81bd" stroke="#2a4a78" stroke-width="0.7"/>
<path d="M51.6 608.1L54.5 611.0L51.6 613.9L48.7 611.0Z" fill="#4f81bd" stroke="#2a4a78" stroke-width="0.7"/>
<path d="M58.9 608.1L61.8 611.0L58.9 613.9L56.0 611.0Z" fill="#4f81bd" stroke="#2a4a78" stroke-width="0.7"/>
<path d="M39.9 595.5L42.8 598.4L39.9 601.3L37.0 598.4Z" fill="#4f81bd" stroke="#2a4a78" stroke-width="0.7"/>
<path d="M45.3 591.9L48.2 594.8L45.3 597.7L42.4 594.8Z" fill="#4f81bd" stroke="#2a4a78" stroke-width="0.7"/>
<path d="M51.6 593.7L54.5 596.6L51.6 599.5L48.7 596.6Z" fill="#4f81bd" stroke="#2a4a78" stroke-width="0.7"/>
<path d="M39.9 604.5L42.8 607.4L39.9 610.3L37.0 607.4Z" fill="#4f81bd" stroke="#2a4a78" stroke-width="0.7"/>
<path d="M39.9 617.1L42.8 620.0L39.9 622.9L37.0 620.0Z" fill="#4f81bd" stroke="#2a4a78" stroke-width="0.7"/>
<path d="M44.4 611.7L47.3 614.6L44.4 617.5L41.5 614.6Z" fill="#4f81bd" stroke="#2a4a78" stroke-width="0.7"/>
<path d="M58.9 613.5L61.8 616.4L58.9 619.3L56.0 616.4Z" fill="#4f81bd" stroke="#2a4a78" stroke-width="0.7"/>
<path d="M62.5 614.9L65.4 617.8L62.5 620.7L59.6 617.8Z" fill="#4f81bd" stroke="#2a4a78" stroke-width="0.7"/>
<path d="M214.2 521.8L217.1 524.7L214.2 527.6L211.3 524.7Z" fill="#4f81bd" stroke="#2a4a78" stroke-width="0.7"/>
<path d="M194.9 543.4L197.8 546.3L194.9 549.2L192.0 546.3Z" fill="#4f81bd" stroke="#2a4a78" stroke-width="0.7"/>
<path d="M214.2 547.3L217.1 550.2L214.2 553.1L211.3 550.2Z" fill="#4f81bd" stroke="#2a4a78" stroke-width="0.7"/>
<path d="M224.4 554.8L227.3 557.7L224.4 560.6L221.5 557.7Z" fill="#4f81bd" stroke="#2a4a78" stroke-width="0.7"/>
<path d="M230.9 567.0L233.8 569.9L230.9 572.8L228.0 569.9Z" fill="#4f81bd" stroke="#2a4a78" stroke-width="0.7"/>
<path d="M204.4 571.0L207.3 573.9L204.4 576.8L201.5 573.9Z" fill="#4f81bd" stroke="#2a4a78" stroke-width="0.7"/>
<path d="M214.2 567.0L217.1 569.9L214.2 572.8L211.3 569.9Z" fill="#4f81bd" stroke="#2a4a78" stroke-width="0.7"/>
<path d="M214.2 576.9L217.1 579.8L214.2 582.7L211.3 579.8Z" fill="#4f81bd" stroke="#2a4a78" stroke-width="0.7"/>
<path d="M214.2 581.8L217.1 584.7L214.2 587.6L211.3 584.7Z" fill="#4f81bd" stroke="#2a4a78" stroke-width="0.7"/>
<path d="M214.2 585.7L217.1 588.6L214.2 591.5L211.3 588.6Z" fill="#4f81bd" stroke="#2a4a78" stroke-width="0.7"/>
<path d="M165.4 581.8L168.3 584.7L165.4 587.6L162.5 584.7Z" fill="#4f81bd" stroke="#2a4a78" stroke-width="0.7"/>
<path d="M194.9 602.4L197.8 605.3L194.9 608.2L192.0 605.3Z" fill="#4f81bd" stroke="#2a4a78" stroke-width="0.7"/>
<path d="M214.2 598.1L217.1 601.0L214.2 603.9L211.3 601.0Z" fill="#4f81bd" stroke="#2a4a78" stroke-width="0.7"/>
<path d="M214.2 609.9L217.1 612.8L214.2 615.7L211.3 612.8Z" fill="#4f81bd" stroke="#2a4a78" stroke-width="0.7"/>
<path d="M146.7 612.3L149.6 615.2L146.7 618.1L143.8 615.2Z" fill="#4f81bd" stroke="#2a4a78" stroke-width="0.7"/>
<path d="M156.0 609.9L158.9 612.8L156.0 615.7L153.1 612.8Z" fill="#4f81bd" stroke="#2a4a78" stroke-width="0.7"/>
<path d="M175.2 609.9L178.1 612.8L175.2 615.7L172.3 612.8Z" fill="#4f81bd" stroke="#2a4a78" stroke-width="0.7"/>
<path d="M272.9 586.3L275.8 589.2L272.9 592.1L270.0 589.2Z" fill="#4f81bd" stroke="#2a4a78" stroke-width="0.7"/>
<path d="M330.5 584.7L333.4 587.6L330.5 590.5L327.6 587.6Z" fill="#4f81bd" stroke="#2a4a78" stroke-width="0.7"/>
<path d="M307.5 598.5L310.4 601.4L307.5 604.3L304.6 601.4Z" fill="#4f81bd" stroke="#2a4a78" stroke-width="0.7"/>
<path d="M354.5 601.5L357.4 604.4L354.5 607.3L351.6 604.4Z" fill="#4f81bd" stroke="#2a4a78" stroke-width="0.7"/>
<path d="M291.7 612.3L294.6 615.2L291.7 618.1L288.8 615.2Z" fill="#4f81bd" stroke="#2a4a78" stroke-width="0.7"/>
<path d="M330.5 609.9L333.4 612.8L330.5 615.7L327.6 612.8Z" fill="#4f81bd" stroke="#2a4a78" stroke-width="0.7"/>
<path d="M398.8 469.5L401.7 472.4L398.8 475.3L395.9 472.4Z" fill="#4f81bd" stroke="#2a4a78" stroke-width="0.7"/>
<path d="M398.8 479.0L401.7 481.9L398.8 484.8L395.9 481.9Z" fill="#4f81bd" stroke="#2a4a78" stroke-width="0.7"/>
<path d="M398.8 495.7L401.7 498.6L398.8 501.5L395.9 498.6Z" fill="#4f81bd" stroke="#2a4a78" stroke-width="0.7"/>
<path d="M408.6 529.2L411.5 532.1L408.6 535.0L405.7 532.1Z" fill="#4f81bd" stroke="#2a4a78" stroke-width="0.7"/>
<path d="M420.3 534.7L423.2 537.6L420.3 540.5L417.4 537.6Z" fill="#4f81bd" stroke="#2a4a78" stroke-width="0.7"/>
<path d="M427.8 545.8L430.7 548.7L427.8 551.6L424.9 548.7Z" fill="#4f81bd" stroke="#2a4a78" stroke-width="0.7"/>
<path d="M360.2 561.8L363.1 564.7L360.2 567.6L357.3 564.7Z" fill="#4f81bd" stroke="#2a4a78" stroke-width="0.7"/>
<path d="M437.4 575.2L440.3 578.1L437.4 581.0L434.5 578.1Z" fill="#4f81bd" stroke="#2a4a78" stroke-width="0.7"/>
<path d="M354.7 601.6L357.6 604.5L354.7 607.4L351.8 604.5Z" fill="#4f81bd" stroke="#2a4a78" stroke-width="0.7"/>
<path d="M39.9 585.7 C43.2 587.1 52.0 590.7 60.0 594.0 C68.0 597.3 79.4 602.6 87.7 605.6 C96.0 608.6 103.0 610.2 110.0 612.0 C117.0 613.8 123.3 615.0 130.0 616.2 C136.7 617.5 142.5 618.4 150.0 619.5 C157.5 620.6 167.7 622.2 175.2 623.0 C182.7 623.8 180.9 624.2 195.0 624.5 C209.1 624.8 219.6 625.0 260.0 625.0 C300.4 625.0 407.8 624.6 437.4 624.5" fill="none" stroke="#e6a195" stroke-width="1.8"/>
<path d="M39.9 617.8 C41.6 618.2 45.6 619.6 50.0 620.5 C54.4 621.4 57.7 622.6 66.0 623.3 C74.3 624.0 77.7 624.4 100.0 624.6 C122.3 624.9 166.7 624.9 200.0 624.8 C233.3 624.7 266.7 624.1 300.0 623.8 C333.3 623.5 377.1 622.9 400.0 623.0 C422.9 623.1 431.2 624.2 437.4 624.5" fill="none" stroke="#e9761c" stroke-width="1.4"/>
<path d="M39.9 587.5 C41.1 585.8 44.5 580.6 47.0 577.0 C49.5 573.4 52.0 569.5 55.0 566.0 C58.0 562.5 61.7 558.7 65.0 556.0 C68.3 553.3 71.2 551.8 75.0 550.0 C78.8 548.2 83.5 546.4 87.7 545.0 C91.9 543.6 94.6 542.6 100.0 541.5 C105.4 540.4 113.5 538.8 120.2 538.5 C126.9 538.2 131.7 538.6 140.0 539.8 C148.3 541.0 159.2 542.5 170.0 545.5 C180.8 548.5 191.5 553.5 204.8 558.1 C218.1 562.7 234.3 568.6 250.0 572.9 C265.7 577.2 280.7 581.2 299.0 583.7 C317.3 586.2 344.4 586.7 360.0 587.6 C375.6 588.5 382.6 587.5 392.6 589.2 C402.6 590.9 412.5 594.5 420.0 598.0 C427.5 601.5 434.5 608.4 437.4 610.5" fill="none" stroke="#8db4e2" stroke-width="1.6"/>
<path d="M39.9 599.3 C43.2 599.8 52.0 601.5 60.0 602.5 C68.0 603.5 77.7 604.9 87.7 605.6 C97.7 606.4 109.6 606.7 120.0 607.0 C130.4 607.3 137.5 607.8 150.0 607.2 C162.5 606.6 180.0 605.0 195.0 603.4 C210.0 601.8 222.7 600.9 240.0 597.5 C257.3 594.1 280.7 588.1 299.0 583.0 C317.3 577.9 333.2 573.0 350.0 566.8 C366.8 560.6 385.4 552.6 400.0 546.0 C414.6 539.4 431.2 530.5 437.4 527.4" fill="none" stroke="#2a5597" stroke-width="2"/>
<path d="M39.9 538.0 C46.4 538.1 68.7 538.7 78.7 538.6 C88.7 538.5 91.5 538.1 100.0 537.3 C108.5 536.4 117.5 535.6 130.0 533.5 C142.5 531.4 163.3 527.0 175.0 524.7 C186.7 522.4 189.2 521.5 200.0 519.5 C210.8 517.5 228.0 514.6 240.0 512.6 C252.0 510.7 262.0 508.9 272.0 507.8 C282.0 506.7 290.3 506.1 300.0 506.0 C309.7 505.9 320.0 506.0 330.0 507.3 C340.0 508.6 349.6 510.6 360.0 513.6 C370.4 516.6 383.4 520.5 392.6 525.2 C401.8 529.9 407.5 536.0 415.0 542.0 C422.5 548.0 433.7 558.2 437.4 561.5" fill="none" stroke="#b2403c" stroke-width="2"/>
<rect x="392" y="446" width="13.7" height="174.3" fill="#4d6c9c" opacity="0.58"/>
<path d="M398.8 469.5L401.7 472.4L398.8 475.3L395.9 472.4Z" fill="#4473b0" stroke="#2a4a78" stroke-width="0.7"/>
<path d="M398.8 479.0L401.7 481.9L398.8 484.8L395.9 481.9Z" fill="#4473b0" stroke="#2a4a78" stroke-width="0.7"/>
<path d="M398.8 495.7L401.7 498.6L398.8 501.5L395.9 498.6Z" fill="#4473b0" stroke="#2a4a78" stroke-width="0.7"/>
<text x="20.6" y="325.4" font-size="21.5" text-anchor="start" fill="#111" >b</text>
<text x="35.1" y="345.2" font-size="11.9" text-anchor="start" fill="#111" >Elbe</text>
<text x="35.1" y="359.7" font-size="11.9" text-anchor="start" fill="#111" >Tagus</text>
<text x="35.1" y="374.2" font-size="11.9" text-anchor="start" fill="#111" >Guadalquivir</text>
<text x="35.1" y="388.7" font-size="11.9" text-anchor="start" fill="#111" >Ebro</text>
<text x="38.4" y="400.3" font-size="10.7" text-anchor="start" fill="#111" >Guadalquivir mouth</text>
<text x="68.9" y="412.5" font-size="11.8" text-anchor="start" fill="#111" >Elbe mouth</text>
<text x="133.6" y="354.8" font-size="11.9" text-anchor="start" fill="#111" >Messolongui</text>
<text x="133.6" y="368.8" font-size="11.9" text-anchor="start" fill="#111" >Burano</text>
<text x="133.6" y="382.8" font-size="11.9" text-anchor="start" fill="#111" >Mejean</text>
<text x="198" y="366.0" font-size="11.9" text-anchor="start" fill="#111" >Ria formosa</text>
<text x="198" y="380.4" font-size="11.9" text-anchor="start" fill="#111" >Mar Chica</text>
<text x="198" y="394.9" font-size="11.9" text-anchor="start" fill="#111" >Salses-Leucate</text>
<text x="198" y="409.4" font-size="11.9" text-anchor="start" fill="#111" >Prevost</text>
<text x="198" y="423.8" font-size="11.9" text-anchor="start" fill="#111" >Encañizada</text>
<text x="198" y="438.2" font-size="11.9" text-anchor="start" fill="#111" >Venecia</text>
<text x="299.7" y="375.4" font-size="11.9" text-anchor="start" fill="#111" >Thau</text>
<text x="299.7" y="389.9" font-size="11.9" text-anchor="start" fill="#111" >Fogliano</text>
<text x="299.7" y="404.4" font-size="11.9" text-anchor="start" fill="#111" >Diana</text>
<text x="299.7" y="418.9" font-size="11.9" text-anchor="start" fill="#111" >Orbetello</text>
<text x="374.4" y="408.2" font-size="11.9" text-anchor="start" fill="#111" >Port-Cros</text>
<text x="374.4" y="422.6" font-size="11.9" text-anchor="start" fill="#111" >Balearic is.</text>
<text x="374.4" y="437.0" font-size="11.9" text-anchor="start" fill="#111" >Turkey</text>
<text x="415.5" y="455.8" font-size="11.9" text-anchor="start" fill="#111" >Biban</text>
<text x="415.5" y="470.2" font-size="11.9" text-anchor="start" fill="#111" >Mar</text>
<text x="415.5" y="484.6" font-size="11.9" text-anchor="start" fill="#111" >Menor</text>
<text x="415.5" y="499.0" font-size="11.9" text-anchor="start" fill="#111" >Bardawil</text>
<text x="218.1" y="661.1" font-size="9.4" text-anchor="start" fill="#111" >minimum salinity</text>
<text x="0" y="0" font-size="9.9" text-anchor="middle" fill="#111" transform="translate(5.8 525.3) rotate(-90)">% species</text>
<circle cx="479.6" cy="448.8" r="2.3" fill="#e0883e" stroke="#8a5a2a" stroke-width="0.7"/>
<text x="484.9" y="452.3" font-size="9.1" text-anchor="start" fill="#111" >%Anadromus</text>
<rect x="563" y="439.6" width="44.7" height="13.8" fill="#f79646"/>
<text x="566.2" y="449.8" font-size="9.4" text-anchor="start" fill="#3a2a1a" >R² = 0,26</text>
<circle cx="479.6" cy="488.5" r="2.3" fill="#dc9c96" stroke="#7a5a58" stroke-width="0.7"/>
<text x="484.9" y="492.0" font-size="9.1" text-anchor="start" fill="#111" >%Fresh water</text>
<rect x="563" y="482.8" width="44.7" height="13.8" fill="#e6b9b8"/>
<text x="566.2" y="493.0" font-size="9.4" text-anchor="start" fill="#3a2a1a" >R² = 0,39</text>
<circle cx="479.6" cy="527.5" r="2.3" fill="#95b3d7" stroke="#4f6480" stroke-width="0.7"/>
<text x="484.9" y="531.0" font-size="9.1" text-anchor="start" fill="#111" >%Estuarine</text>
<rect x="563" y="520.7" width="44.7" height="13.3" fill="#b9cde5"/>
<text x="566.2" y="530.6" font-size="9.4" text-anchor="start" fill="#3a2a1a" >R² = 0,25</text>
<circle cx="479.6" cy="567.0" r="2.4" fill="#c0504d" stroke="#6e2a28" stroke-width="0.7"/>
<text x="484.9" y="570.5" font-size="9.1" text-anchor="start" fill="#111" >%Marine Migrant</text>
<rect x="564.1" y="560.1" width="44.8" height="13.8" fill="#c0504d"/>
<text x="567.3000000000001" y="570.3" font-size="9.4" text-anchor="start" fill="#3a2a1a" >R² = 0,11</text>
<path d="M479.6 603.4L482.2 606.0L479.6 608.6L477.0 606.0Z" fill="#4f81bd" stroke="#2a4a78" stroke-width="0.4"/>
<text x="484.9" y="609.5" font-size="9.1" text-anchor="start" fill="#111" >%Marine</text>
<rect x="564.1" y="601" width="44.8" height="13.3" fill="#2f5da6"/>
<text x="567.3000000000001" y="610.9" font-size="9.4" text-anchor="start" fill="#3a2a1a" >R² = 0,31</text>
<defs><linearGradient id="ag" gradientUnits="userSpaceOnUse" x1="105" x2="382" y1="0" y2="0"><stop offset="0" stop-color="#417ec9"/><stop offset="0.41" stop-color="#3a70b8"/><stop offset="0.85" stop-color="#2a549e"/><stop offset="1" stop-color="#21428a"/></linearGradient></defs>
<rect x="98.9" y="699.4" width="1.1" height="21" fill="#4a84cc"/>
<rect x="101" y="699.4" width="2.8" height="21" fill="#407dc9"/>
<path d="M105 699.4H362V690L381.9 709.8L362 729.9V720.3H105Z" fill="url(#ag)"/>
<text x="28.3" y="713.7" font-size="16.6" text-anchor="start" fill="#111" >estuaries</text>
<text x="386.4" y="713.6" font-size="16.6" text-anchor="start" fill="#111" >sea</text>
<text x="82.9" y="748.1" font-size="16.6" text-anchor="start" fill="#111" >Oligohaline coastal lagoons</text>
<text x="395.6" y="748.0" font-size="16.6" text-anchor="start" fill="#111" >Euhaline coastal lagoons</text>
</svg>
</body></html>
